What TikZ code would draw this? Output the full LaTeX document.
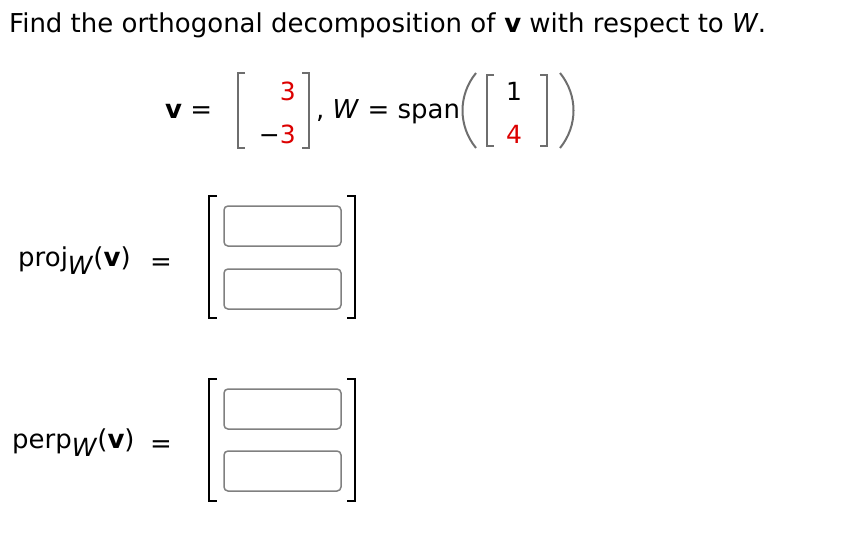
\documentclass[tikz,border=0pt]{standalone}
\usepackage{fontspec}
\setmainfont{DejaVu Sans}
\definecolor{redn}{RGB}{220,0,0}
\definecolor{grayb}{RGB}{110,110,110}
\definecolor{boxg}{RGB}{128,128,128}
\tikzset{
 txt/.style={inner sep=0pt,font=\fontsize{26}{30}\selectfont},
 ent/.style={inner sep=0pt,font=\fontsize{25}{30}\selectfont},
 gbr/.style={draw=grayb,line width=2pt},
 bbr/.style={draw=black,line width=2pt},
 ansbox/.style={draw=boxg,line width=1.5pt,rounded corners=4pt}
}
\newcommand{\subW}{\raisebox{-8pt}{\fontsize{25}{30}\selectfont\textit{W}}}
\begin{document}
\begin{tikzpicture}[x=1pt,y=-1pt]
\useasboundingbox (0,0) rectangle (866,532);
\node[txt,anchor=base west] (title) at (9,33) {Find the orthogonal decomposition of \textbf{v} with respect to \textit{W}.};
% top line
\node[txt,anchor=base west] (veq) at (165,118) {\textbf{v} =};
\draw[gbr] (245,73) -- (238,73) -- (238,148) -- (245,148);
\draw[gbr] (302,73) -- (309,73) -- (309,148) -- (302,148);
\node[ent,anchor=base east,text=redn] (v1) at (296,100) {3};
\node[ent,anchor=base east] (v2) at (296,143) {−\textcolor{redn}{3}};
\node[txt,anchor=base west] (weq) at (316,118) {, \textit{W} = span};
\draw[gbr] (476,73) .. controls (458,95) and (458,126) .. (476,148);
\draw[gbr] (560,73) .. controls (578,95) and (578,126) .. (560,148);
\draw[gbr] (494,75) -- (487,75) -- (487,146) -- (494,146);
\draw[gbr] (540,75) -- (547,75) -- (547,146) -- (540,146);
\node[ent,anchor=base] (w1) at (514,100) {1};
\node[ent,anchor=base,text=redn] (w2) at (514,143) {4};
% proj
\node[txt,anchor=base west] (proj) at (18,266) {proj\subW(\textbf{v})};
\node[txt,anchor=base west] (peq1) at (150,270) {=};
\draw[bbr] (217,196) -- (209,196) -- (209,318) -- (217,318);
\draw[bbr] (347,196) -- (355,196) -- (355,318) -- (347,318);
\draw[ansbox] (224,206) rectangle (341,246);
\draw[ansbox] (224,269) rectangle (341,309);
% perp
\node[txt,anchor=base west] (perp) at (12,448) {perp\subW(\textbf{v})};
\node[txt,anchor=base west] (peq2) at (150,452) {=};
\draw[bbr] (217,379) -- (209,379) -- (209,501) -- (217,501);
\draw[bbr] (347,379) -- (355,379) -- (355,501) -- (347,501);
\draw[ansbox] (224,389) rectangle (341,429);
\draw[ansbox] (224,451) rectangle (341,491);
\end{tikzpicture}
\end{document}
